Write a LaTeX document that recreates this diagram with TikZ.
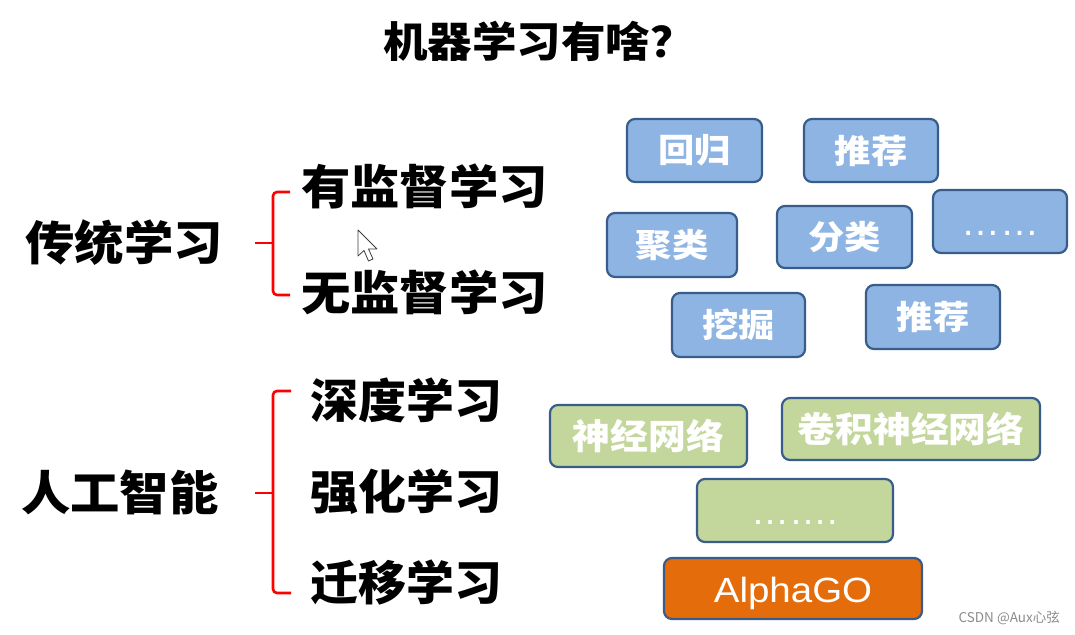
\documentclass[tikz,border=0pt]{standalone}
\usepackage{fontspec}
\setmainfont{Liberation Sans}
\newfontfamily\cjk{Noto Sans CJK SC}
\definecolor{boxline}{HTML}{385D8A}
\definecolor{boxblue}{HTML}{8EB4E3}
\definecolor{boxgreen}{HTML}{C3D69B}
\definecolor{boxorange}{HTML}{E46C0A}
\definecolor{brkred}{HTML}{FF0000}
\begin{document}
\begin{tikzpicture}[x=1pt,y=-1pt,
  lbl/.style={inner sep=0pt, font=\cjk\bfseries\fontsize{47}{50}\selectfont},
  box/.style={draw=boxline, line width=2.2pt, rounded corners=8pt, inner sep=0pt, text=white},
  bluebox/.style={box, fill=boxblue, font=\cjk\bfseries\fontsize{33}{36}\selectfont},
  greenbox/.style={box, fill=boxgreen, font=\cjk\bfseries\fontsize{35}{38}\selectfont},
  orangebox/.style={box, fill=boxorange},
  dotstext/.style={inner sep=0pt, text=white, font=\fontsize{39}{40}\selectfont},
  brk/.style={draw=brkred, line width=2.6pt, rounded corners=4pt},
]
\useasboundingbox (0,0) rectangle (1075,634);
\fill[white] (0,0) rectangle (1075,634);

% title
\node[inner sep=0pt, anchor=west, font=\cjk\bfseries\fontsize{42}{45}\selectfont] (title) at (383,41) {\scalebox{1.06}[1]{机器学习有啥？}};

% left labels
\node[lbl] (trad) at (124,243) {\scalebox{1.05}[1]{传统学习}};
\node[lbl] (ai) at (120,492) {\scalebox{1.05}[1]{人工智能}};
\node[lbl, anchor=west] (sup) at (301,186) {\scalebox{1.05}[1]{有监督学习}};
\node[lbl, anchor=west] (unsup) at (301,292) {\scalebox{1.05}[1]{无监督学习}};
\node[lbl, anchor=west] (deep) at (310,400) {\scalebox{1.02}[1]{深度学习}};
\node[lbl, anchor=west] (rl) at (310,492) {\scalebox{1.02}[1]{强化学习}};
\node[lbl, anchor=west] (tl) at (310,583) {\scalebox{1.02}[1]{迁移学习}};

% brackets
\coordinate (b1t) at (290,192);
\coordinate (b1b) at (290,295);
\coordinate (b1m) at (255,243);
\draw[brk] (b1t) -- (273,192) -- (273,295) -- (b1b);
\draw[brkred, line width=2.6pt] (273,243) -- (b1m);
\coordinate (b2t) at (291,391);
\coordinate (b2b) at (291,593);
\coordinate (b2m) at (255,493);
\draw[brk] (b2t) -- (273,391) -- (273,593) -- (b2b);
\draw[brkred, line width=2.6pt] (273,493) -- (b2m);

% blue boxes
\node[bluebox, minimum width=135, minimum height=63] (huigui) at (694.5,150.5) {\scalebox{1.1}[1]{回归}};
\node[bluebox, minimum width=134, minimum height=63] (tuijianA) at (871,150.5) {\scalebox{1.1}[1]{推荐}};
\node[bluebox, minimum width=134, minimum height=63] (dotsA) at (1000,221.5) {};
\node[dotstext, anchor=base] (dotsAt) at ([yshift=-14pt]dotsA.center) {……};
\node[bluebox, minimum width=130, minimum height=64] (julei) at (672,245) {\scalebox{1.1}[1]{聚类}};
\node[bluebox, minimum width=135, minimum height=62] (fenlei) at (844.5,237) {\scalebox{1.1}[1]{分类}};
\node[bluebox, minimum width=133, minimum height=64] (wajue) at (738.5,325) {\scalebox{1.1}[1]{挖掘}};
\node[bluebox, minimum width=134, minimum height=64] (tuijianB) at (933,317) {\scalebox{1.1}[1]{推荐}};

% green boxes
\node[greenbox, minimum width=197, minimum height=62] (nn) at (648.5,436) {\scalebox{1.08}[1]{神经网络}};
\node[greenbox, minimum width=258, minimum height=62] (cnn) at (911,429) {\scalebox{1.08}[1]{卷积神经网络}};
\node[greenbox, minimum width=196, minimum height=63] (dotsB) at (795,510.5) {};
\node[dotstext, anchor=base, font=\fontsize{38}{40}\selectfont] (dotsBt) at ([yshift=-14pt]dotsB.center) {…….};
\node[orangebox, minimum width=258, minimum height=61] (alphago) at (793,588.5) {};
\node[inner sep=0pt, anchor=base, text=white, font=\fontsize{35}{38}\selectfont] (alphagot) at ([yshift=-14pt]alphago.center) {\scalebox{1.1}[1]{AlphaGO}};

% mouse cursor
\filldraw[fill=white, draw=black!75, line width=0.8pt, line join=round]
  (358,230) -- ++(0,26) -- ++(6,-5.5) -- ++(4.5,10.5) -- ++(4.5,-2) -- ++(-4.5,-10) -- ++(8.5,0) -- cycle;

% watermark
\node[inner sep=0pt, anchor=east, text=black!45, font=\cjk\fontsize{13.5}{15}\selectfont] (wm) at (1060,618) {CSDN @Aux心弦};
\end{tikzpicture}
\end{document}
